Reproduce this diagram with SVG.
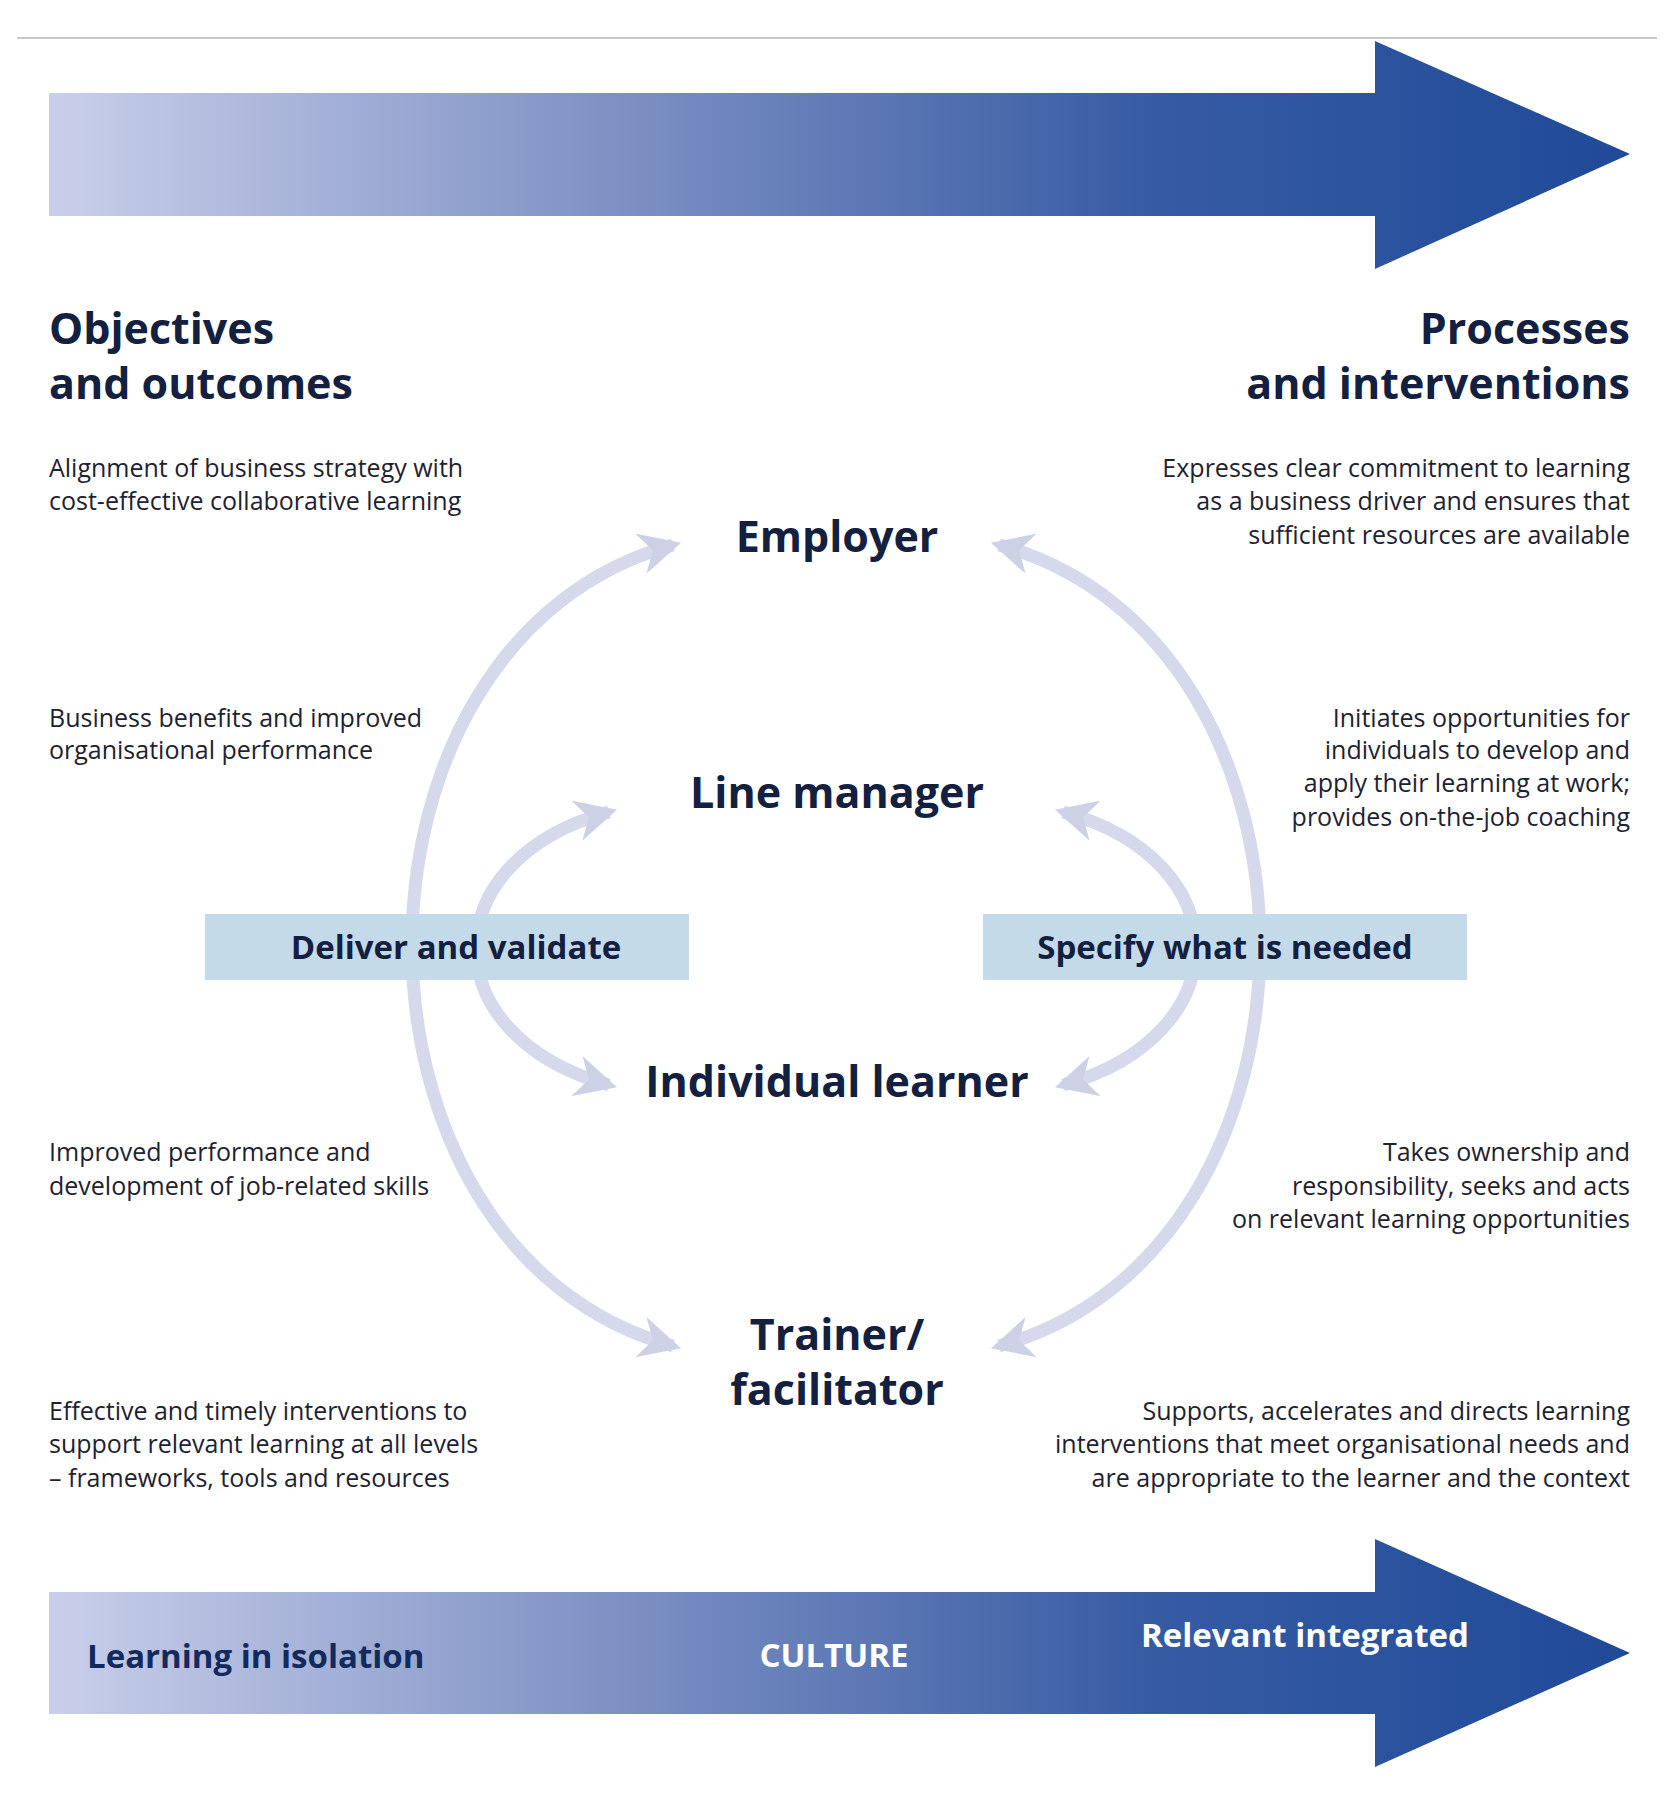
<svg xmlns="http://www.w3.org/2000/svg" width="1671" height="1815" viewBox="0 0 1671 1815">
<defs>
<linearGradient id="g" x1="49" y1="0" x2="1630" y2="0" gradientUnits="userSpaceOnUse">
<stop offset="0" stop-color="#c9cfea"/><stop offset="0.35" stop-color="#7f92c4"/><stop offset="0.7" stop-color="#365ba3"/><stop offset="1" stop-color="#1f4a98"/>
</linearGradient>
<marker id="ah" viewBox="0 0 10 10" refX="8" refY="5" markerWidth="3.2" markerHeight="3.2" orient="auto-start-reverse" markerUnits="strokeWidth">
<path d="M0,0 L10,5 L0,10 L3,5 Z" fill="#cdd1e6"/>
</marker>
<style>
.h{font-family:"Open Sans","Liberation Sans",sans-serif;font-weight:bold;fill:#142040;font-size:43px}
.s{font-family:"Open Sans","Liberation Sans",sans-serif;fill:#1e2230;font-size:25px}
.b{font-family:"Open Sans","Liberation Sans",sans-serif;font-weight:bold;font-size:33px}
.c{fill:none;stroke:#d6d9eb;stroke-width:13}
.r{text-anchor:end}
.m{text-anchor:middle}
</style>
</defs>
<rect width="1671" height="1815" fill="#fff"/>
<line x1="17" y1="38" x2="1657" y2="38" stroke="#c8c8c8" stroke-width="2"/>
<path id="arrow-top" d="M49,93 H1375 V41 L1630,154 L1375,269 V216 H49 Z" fill="url(#g)"/>
<g id="connectors">
<path class="c" d="M673,545 C325,640 325,1250 673,1346" marker-start="url(#ah)" marker-end="url(#ah)"/>
<path class="c" d="M999,545 C1347,640 1347,1250 999,1346" marker-start="url(#ah)" marker-end="url(#ah)"/>
<path class="c" d="M609,812 C432,860 432,1036 609,1085" marker-start="url(#ah)" marker-end="url(#ah)"/>
<path class="c" d="M1063,812 C1240,860 1240,1036 1063,1085" marker-start="url(#ah)" marker-end="url(#ah)"/>
</g>
<g id="box-deliver"><rect x="205" y="914" width="484" height="66" fill="#c5dae9"/><text class="b m" x="456" y="959" fill="#142040">Deliver and validate</text></g>
<g id="box-specify"><rect x="983" y="914" width="484" height="66" fill="#c5dae9"/><text class="b m" x="1225" y="959" fill="#142040">Specify what is needed</text></g>
<g id="head-left"><text class="h" x="49" y="344">Objectives</text><text class="h" x="49" y="399">and outcomes</text></g>
<g id="head-right"><text class="h r" x="1630" y="344">Processes</text><text class="h r" x="1630" y="399">and interventions</text></g>
<g id="node-employer"><text class="h m" x="837" y="552">Employer</text></g>
<g id="node-linemanager"><text class="h m" x="837" y="808">Line manager</text></g>
<g id="node-learner"><text class="h m" x="837" y="1097">Individual learner</text></g>
<g id="node-trainer"><text class="h m" x="837" y="1350">Trainer/</text><text class="h m" x="837" y="1405">facilitator</text></g>
<g id="text-left">
<text class="s" x="49" y="477">Alignment of business strategy with</text>
<text class="s" x="49" y="510">cost-effective collaborative learning</text>
<text class="s" x="49" y="727">Business benefits and improved</text>
<text class="s" x="49" y="759">organisational performance</text>
<text class="s" x="49" y="1161">Improved performance and</text>
<text class="s" x="49" y="1195">development of job-related skills</text>
<text class="s" x="49" y="1420">Effective and timely interventions to</text>
<text class="s" x="49" y="1453">support relevant learning at all levels</text>
<text class="s" x="49" y="1487">– frameworks, tools and resources</text>
</g>
<g id="text-right">
<text class="s r" x="1630" y="477">Expresses clear commitment to learning</text>
<text class="s r" x="1630" y="510">as a business driver and ensures that</text>
<text class="s r" x="1630" y="544">sufficient resources are available</text>
<text class="s r" x="1630" y="727">Initiates opportunities for</text>
<text class="s r" x="1630" y="759">individuals to develop and</text>
<text class="s r" x="1630" y="792">apply their learning at work;</text>
<text class="s r" x="1630" y="826">provides on-the-job coaching</text>
<text class="s r" x="1630" y="1161">Takes ownership and</text>
<text class="s r" x="1630" y="1195">responsibility, seeks and acts</text>
<text class="s r" x="1630" y="1228">on relevant learning opportunities</text>
<text class="s r" x="1630" y="1420">Supports, accelerates and directs learning</text>
<text class="s r" x="1630" y="1453">interventions that meet organisational needs and</text>
<text class="s r" x="1630" y="1487">are appropriate to the learner and the context</text>
</g>
<g id="arrow-bottom">
<path d="M49,1592 H1375 V1539 L1630,1653 L1375,1767 V1714 H49 Z" fill="url(#g)"/>
<text class="b" x="87" y="1668" fill="#142a5c">Learning in isolation</text>
<text class="b m" x="834" y="1667" fill="#fff">CULTURE</text>
<text class="b" x="1141" y="1647" fill="#fff">Relevant integrated</text>
</g>
</svg>
